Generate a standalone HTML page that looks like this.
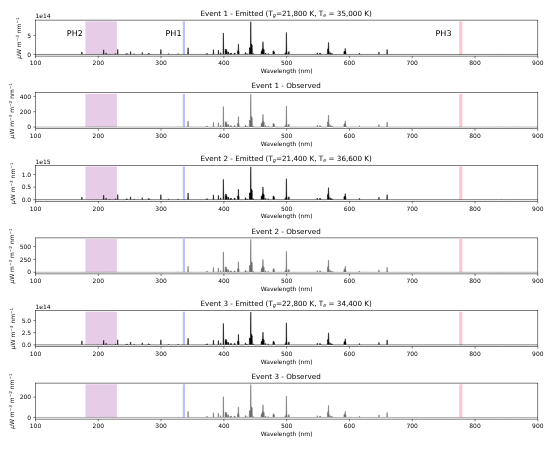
<!DOCTYPE html>
<html><head><meta charset="utf-8"><title>Spectra</title>
<style>html,body{margin:0;padding:0;background:#fff}svg{display:block}text{font-family:"DejaVu Sans","Liberation Sans",sans-serif;fill:#000}</style></head>
<body>
<svg width="550" height="449" viewBox="0 0 550 449">
<rect width="550" height="449" fill="#fff"/>
<g>
<rect x="85.42" y="21.26" width="31.46" height="33.20" fill="#800080" fill-opacity="0.2"/>
<rect x="182.77" y="21.26" width="2.2" height="33.2" fill="#0000ff" fill-opacity="0.26"/>
<rect x="459.26" y="21.26" width="3.0" height="33.2" fill="#ff0000" fill-opacity="0.22"/>
<path d="M35.50,54.46 L35.50,54.46 L81.46,54.46 L81.59,54.22 L81.71,52.61 L81.84,51.96 L81.96,51.96 L82.09,52.61 L82.21,54.22 L82.34,54.46 L103.18,54.46 L103.31,54.42 L103.44,52.69 L103.56,50.11 L103.69,49.84 L103.81,50.11 L103.94,52.69 L104.06,54.42 L104.19,54.46 L105.70,54.45 L105.82,53.84 L105.95,52.95 L106.07,52.85 L106.20,52.95 L106.32,53.84 L106.45,54.45 L109.21,54.46 L109.34,54.27 L109.46,53.99 L109.59,53.96 L109.71,53.99 L109.84,54.27 L109.97,54.46 L114.86,54.45 L114.99,54.11 L115.11,53.61 L115.24,53.56 L115.37,53.61 L115.49,54.11 L115.62,54.45 L117.25,54.46 L117.37,54.42 L117.50,52.50 L117.63,49.64 L117.75,49.34 L117.88,49.64 L118.00,52.50 L118.13,54.42 L118.25,54.46 L125.79,54.46 L125.91,54.37 L126.04,53.79 L126.17,53.56 L126.29,53.56 L126.42,53.79 L126.54,54.37 L126.67,54.46 L126.79,54.45 L126.92,54.15 L127.04,53.70 L127.17,53.66 L127.30,53.70 L127.42,54.15 L127.55,54.45 L130.06,54.46 L130.18,54.44 L130.31,53.34 L130.43,51.72 L130.56,51.55 L130.69,51.72 L130.81,53.34 L130.94,54.44 L131.06,54.46 L133.70,54.45 L133.83,54.15 L133.95,53.70 L134.08,53.66 L134.20,53.70 L134.33,54.15 L134.45,54.45 L141.86,54.44 L141.99,53.69 L142.11,52.57 L142.24,52.45 L142.36,52.57 L142.49,53.69 L142.62,54.44 L148.14,54.45 L148.27,54.00 L148.39,53.33 L148.52,53.26 L148.64,53.33 L148.77,54.00 L148.89,54.45 L149.02,54.46 L149.15,54.38 L149.27,53.87 L149.40,53.66 L149.52,53.66 L149.65,53.87 L149.77,54.38 L149.90,54.46 L160.45,54.46 L160.57,53.98 L160.70,50.75 L160.82,49.46 L160.95,49.46 L161.08,50.75 L161.20,53.98 L161.33,54.46 L168.23,54.45 L168.36,54.15 L168.48,53.70 L168.61,53.66 L168.74,53.70 L168.86,54.15 L168.99,54.45 L177.65,54.45 L177.78,54.15 L177.90,53.70 L178.03,53.66 L178.15,53.70 L178.28,54.15 L178.40,54.45 L187.57,54.46 L187.70,54.41 L187.82,51.88 L187.95,48.13 L188.07,47.73 L188.20,48.13 L188.32,51.88 L188.45,54.41 L188.58,54.46 L205.78,54.45 L205.91,54.15 L206.03,53.70 L206.16,53.66 L206.28,53.70 L206.41,54.15 L206.53,54.45 L206.78,54.46 L206.91,54.36 L207.04,53.72 L207.16,53.46 L207.29,53.46 L207.41,53.72 L207.54,54.36 L207.66,54.46 L212.94,54.46 L213.06,54.42 L213.19,52.61 L213.31,49.92 L213.44,49.64 L213.57,49.92 L213.69,52.61 L213.82,54.42 L213.94,54.46 L217.96,54.46 L218.09,54.04 L218.21,51.27 L218.34,50.16 L218.46,50.16 L218.59,51.27 L218.71,54.04 L218.84,54.46 L220.35,54.45 L220.47,53.77 L220.60,52.76 L220.72,52.65 L220.85,52.76 L220.97,53.77 L221.10,54.45 L222.86,54.46 L222.98,54.29 L223.11,46.22 L223.23,34.23 L223.36,32.98 L223.49,34.23 L223.61,46.22 L223.74,54.29 L223.86,54.46 L224.99,54.46 L225.12,53.93 L225.24,50.38 L225.37,48.96 L225.49,48.96 L225.62,50.38 L225.75,51.87 L225.87,50.96 L226.00,50.96 L226.12,51.87 L226.25,52.42 L226.37,49.45 L226.50,49.14 L226.63,49.45 L226.75,52.24 L226.88,51.46 L227.00,51.46 L227.13,52.24 L227.25,54.17 L227.38,54.46 L227.63,54.46 L227.76,54.44 L227.88,53.42 L228.01,51.91 L228.13,51.75 L228.26,51.91 L228.38,52.98 L228.51,52.46 L228.63,52.46 L228.76,52.98 L228.89,54.27 L229.01,54.46 L230.02,54.46 L230.14,54.33 L230.27,53.50 L230.39,53.16 L230.52,53.16 L230.64,53.50 L230.77,54.33 L230.89,53.88 L231.02,53.04 L231.15,52.95 L231.27,53.04 L231.40,53.88 L231.52,54.45 L233.91,54.45 L234.03,53.96 L234.16,53.23 L234.29,53.16 L234.41,53.23 L234.54,53.96 L234.66,53.88 L234.79,53.04 L234.91,52.95 L235.04,53.04 L235.16,53.88 L235.29,54.45 L237.30,54.46 L237.42,54.43 L237.55,53.00 L237.68,50.87 L237.80,50.65 L237.93,50.87 L238.05,53.00 L238.18,50.42 L238.30,44.53 L238.43,43.92 L238.55,44.53 L238.68,50.42 L238.81,50.96 L238.93,50.96 L239.06,51.87 L239.18,54.12 L239.31,54.46 L244.96,54.46 L245.08,54.27 L245.21,52.98 L245.34,52.46 L245.46,52.46 L245.59,52.98 L245.71,53.33 L245.84,53.26 L245.96,53.33 L246.09,54.00 L246.21,54.45 L246.72,54.45 L246.84,54.15 L246.97,53.70 L247.09,53.66 L247.22,53.70 L247.35,54.15 L247.47,54.45 L249.10,54.46 L249.23,54.41 L249.35,51.84 L249.48,48.03 L249.61,47.63 L249.73,48.03 L249.86,49.42 L249.98,47.66 L250.11,47.66 L250.23,48.90 L250.36,46.96 L250.48,46.96 L250.61,30.22 L250.74,21.76 L250.86,21.76 L250.99,30.22 L251.11,44.53 L251.24,43.92 L251.36,44.53 L251.49,46.68 L251.61,43.96 L251.74,43.96 L251.87,46.68 L251.99,45.46 L252.12,45.46 L252.24,47.79 L252.37,53.59 L252.49,54.46 L253.00,54.45 L253.12,54.07 L253.25,53.51 L253.37,53.46 L253.50,53.51 L253.62,54.07 L253.75,54.45 L260.91,54.46 L261.03,54.43 L261.16,53.07 L261.28,51.06 L261.41,50.85 L261.54,51.06 L261.66,53.00 L261.79,50.87 L261.91,50.65 L262.04,50.87 L262.16,52.15 L262.29,48.79 L262.41,48.44 L262.54,48.79 L262.67,52.15 L262.79,45.05 L262.92,41.76 L263.04,41.76 L263.17,45.05 L263.29,50.38 L263.42,48.96 L263.54,48.96 L263.67,50.38 L263.80,50.75 L263.92,49.46 L264.05,49.46 L264.17,50.75 L264.30,53.98 L264.42,54.46 L265.18,54.46 L265.30,54.31 L265.43,53.35 L265.55,52.96 L265.68,52.96 L265.80,53.35 L265.93,54.31 L266.06,54.46 L267.69,54.46 L267.81,54.36 L267.94,53.72 L268.06,53.46 L268.19,53.46 L268.32,53.72 L268.44,54.36 L268.57,54.46 L272.71,54.46 L272.84,54.43 L272.96,53.15 L273.09,51.25 L273.21,51.05 L273.34,51.25 L273.46,53.00 L273.59,50.87 L273.72,50.65 L273.84,50.87 L273.97,53.00 L274.09,52.10 L274.22,51.95 L274.34,52.10 L274.47,53.50 L274.59,54.44 L284.64,54.46 L284.77,54.34 L284.89,53.57 L285.02,53.26 L285.14,53.26 L285.27,53.57 L285.39,54.34 L285.52,54.46 L285.65,54.19 L285.77,52.38 L285.90,51.66 L286.02,51.66 L286.15,45.99 L286.27,33.66 L286.40,32.38 L286.52,33.66 L286.65,45.99 L286.78,51.66 L286.90,51.66 L287.03,52.38 L287.15,54.19 L287.28,54.46 L288.16,54.44 L288.28,53.61 L288.41,52.38 L288.53,52.25 L288.66,52.38 L288.78,52.24 L288.91,51.46 L289.04,51.46 L289.16,52.24 L289.29,54.17 L289.41,54.46 L316.79,54.46 L316.91,54.30 L317.04,53.20 L317.16,52.76 L317.29,52.76 L317.42,53.20 L317.54,54.30 L317.67,54.46 L319.55,54.45 L319.68,53.88 L319.80,53.04 L319.93,52.95 L320.05,53.04 L320.18,53.88 L320.30,54.07 L320.43,53.51 L320.56,53.46 L320.68,53.51 L320.81,54.07 L320.93,54.45 L327.21,54.46 L327.34,53.98 L327.46,50.75 L327.59,49.46 L327.71,49.46 L327.84,50.75 L327.96,48.79 L328.09,48.44 L328.22,48.79 L328.34,45.56 L328.47,42.46 L328.59,42.46 L328.72,45.56 L328.84,52.24 L328.97,51.46 L329.09,51.46 L329.22,52.24 L329.35,54.17 L329.47,54.46 L329.85,54.46 L329.97,54.29 L330.10,53.13 L330.22,52.66 L330.35,52.66 L330.48,53.13 L330.60,54.29 L330.73,54.46 L330.85,54.45 L330.98,54.00 L331.10,53.33 L331.23,53.26 L331.35,53.33 L331.48,54.00 L331.61,54.45 L332.11,54.45 L332.23,54.15 L332.36,53.70 L332.48,53.66 L332.61,53.70 L332.74,54.15 L332.86,54.45 L343.66,54.46 L343.79,54.44 L343.91,53.30 L344.04,51.62 L344.16,51.45 L344.29,51.62 L344.41,53.11 L344.54,51.15 L344.67,50.95 L344.79,51.15 L344.92,53.11 L345.04,50.01 L345.17,48.46 L345.29,48.46 L345.42,50.01 L345.54,52.61 L345.67,51.96 L345.80,51.96 L345.92,52.61 L346.05,54.22 L346.17,54.46 L359.11,54.45 L359.23,53.96 L359.36,53.23 L359.48,53.16 L359.61,53.23 L359.73,53.96 L359.86,54.45 L378.57,54.44 L378.70,53.50 L378.82,52.10 L378.95,51.95 L379.07,52.10 L379.20,53.50 L379.32,54.44 L386.61,54.46 L386.73,54.42 L386.86,52.53 L386.98,49.73 L387.11,49.44 L387.24,49.73 L387.36,52.53 L387.49,54.42 L387.61,54.46 L501.26,54.46 L501.38,54.43 L501.51,54.24 L501.63,54.16 L501.76,54.16 L501.89,54.24 L502.01,54.43 L502.14,54.46 L516.70,54.46 L516.83,54.34 L516.95,54.18 L517.08,54.16 L517.21,54.18 L517.33,54.34 L517.46,54.46 L537.80,54.46 L537.80,54.46" fill="#000" stroke="#000" stroke-width="0.5" stroke-linejoin="round"/>
<rect x="35.50" y="20.10" width="502.30" height="36.00" fill="none" stroke="#000" stroke-width="0.5"/>
<line x1="35.50" y1="56.10" x2="35.50" y2="58.20" stroke="#000" stroke-width="0.5"/>
<text x="35.50" y="65.40" font-size="6.0" text-anchor="middle">100</text>
<line x1="98.29" y1="56.10" x2="98.29" y2="58.20" stroke="#000" stroke-width="0.5"/>
<text x="98.29" y="65.40" font-size="6.0" text-anchor="middle">200</text>
<line x1="161.07" y1="56.10" x2="161.07" y2="58.20" stroke="#000" stroke-width="0.5"/>
<text x="161.07" y="65.40" font-size="6.0" text-anchor="middle">300</text>
<line x1="223.86" y1="56.10" x2="223.86" y2="58.20" stroke="#000" stroke-width="0.5"/>
<text x="223.86" y="65.40" font-size="6.0" text-anchor="middle">400</text>
<line x1="286.65" y1="56.10" x2="286.65" y2="58.20" stroke="#000" stroke-width="0.5"/>
<text x="286.65" y="65.40" font-size="6.0" text-anchor="middle">500</text>
<line x1="349.44" y1="56.10" x2="349.44" y2="58.20" stroke="#000" stroke-width="0.5"/>
<text x="349.44" y="65.40" font-size="6.0" text-anchor="middle">600</text>
<line x1="412.22" y1="56.10" x2="412.22" y2="58.20" stroke="#000" stroke-width="0.5"/>
<text x="412.22" y="65.40" font-size="6.0" text-anchor="middle">700</text>
<line x1="475.01" y1="56.10" x2="475.01" y2="58.20" stroke="#000" stroke-width="0.5"/>
<text x="475.01" y="65.40" font-size="6.0" text-anchor="middle">800</text>
<line x1="537.80" y1="56.10" x2="537.80" y2="58.20" stroke="#000" stroke-width="0.5"/>
<text x="537.80" y="65.40" font-size="6.0" text-anchor="middle">900</text>
<line x1="33.40" y1="54.46" x2="35.50" y2="54.46" stroke="#000" stroke-width="0.5"/>
<text x="31.20" y="56.66" font-size="6.0" text-anchor="end">0</text>
<line x1="33.40" y1="35.56" x2="35.50" y2="35.56" stroke="#000" stroke-width="0.5"/>
<text x="31.20" y="37.76" font-size="6.0" text-anchor="end">5</text>
<text x="35.50" y="18.40" font-size="6.0">1e14</text>
<text x="286.65" y="73.10" font-size="6.0" text-anchor="middle">Wavelength (nm)</text>
<text transform="translate(20.80,38.10) rotate(-90)" font-size="6.0" text-anchor="middle"><tspan font-style="italic">μ</tspan>W m<tspan font-size="4.20" dy="-2.2">−3</tspan><tspan dy="2.2"> nm</tspan><tspan font-size="4.20" dy="-2.2">−1</tspan></text>
<text x="286.15" y="15.70" font-size="7.2" text-anchor="middle">Event 1 - Emitted (T<tspan font-size="5.04" font-style="italic" dy="1.1">g</tspan><tspan dy="-1.1">=21,800 K, T</tspan><tspan font-size="5.04" font-style="italic" dy="1.1">e</tspan><tspan dy="-1.1"> = 35,000 K)</tspan></text>
<text transform="translate(74.90,35.9) scale(1,0.96)" font-size="8.1" text-anchor="middle">PH2</text>
<text transform="translate(173.50,35.9) scale(1,0.96)" font-size="8.1" text-anchor="middle">PH1</text>
<text transform="translate(443.50,35.9) scale(1,0.96)" font-size="8.1" text-anchor="middle">PH3</text>
</g>
<g>
<rect x="85.42" y="93.86" width="31.46" height="33.20" fill="#800080" fill-opacity="0.2"/>
<rect x="182.77" y="93.86" width="2.2" height="33.2" fill="#0000ff" fill-opacity="0.26"/>
<rect x="459.26" y="93.86" width="3.0" height="33.2" fill="#ff0000" fill-opacity="0.22"/>
<path d="M35.50,127.06 L35.50,127.06 L160.57,127.04 L160.70,126.91 L160.82,126.86 L160.95,126.85 L161.08,126.90 L161.20,127.04 L161.33,127.06 L168.23,127.06 L168.36,127.01 L168.48,126.94 L168.61,126.93 L168.74,126.93 L168.86,127.01 L168.99,127.06 L177.65,127.06 L177.78,126.89 L177.90,126.64 L178.03,126.61 L178.15,126.63 L178.28,126.88 L178.40,127.06 L187.57,127.06 L187.70,127.01 L187.82,124.74 L187.95,121.34 L188.07,120.98 L188.20,121.32 L188.32,124.71 L188.45,127.01 L188.58,127.06 L205.78,127.05 L205.91,126.75 L206.03,126.31 L206.16,126.26 L206.28,126.31 L206.41,126.75 L206.53,127.05 L206.78,127.06 L206.91,126.96 L207.04,126.32 L207.16,126.06 L207.29,126.06 L207.41,126.32 L207.54,126.96 L207.66,127.06 L212.94,127.06 L213.06,127.02 L213.19,125.21 L213.31,122.53 L213.44,122.25 L213.57,122.52 L213.69,125.21 L213.82,127.02 L213.94,127.06 L217.96,127.06 L218.09,126.64 L218.21,123.87 L218.34,122.76 L218.46,122.76 L218.59,123.87 L218.71,126.64 L218.84,127.06 L220.35,127.05 L220.47,126.37 L220.60,125.36 L220.72,125.25 L220.85,125.36 L220.97,126.37 L221.10,127.05 L222.86,127.06 L222.98,126.90 L223.11,119.15 L223.23,107.64 L223.36,106.44 L223.49,107.64 L223.61,119.15 L223.74,126.90 L223.86,127.06 L224.99,127.06 L225.12,126.53 L225.24,122.98 L225.37,121.56 L225.49,121.56 L225.62,122.98 L225.75,124.47 L225.87,123.56 L226.00,123.56 L226.12,124.47 L226.25,125.02 L226.37,122.05 L226.50,121.74 L226.63,122.05 L226.75,124.84 L226.88,124.06 L227.00,124.06 L227.13,124.84 L227.25,126.77 L227.38,127.06 L227.63,127.06 L227.76,127.04 L227.88,126.02 L228.01,124.51 L228.13,124.35 L228.26,124.51 L228.38,125.58 L228.51,125.06 L228.63,125.06 L228.76,125.58 L228.89,126.87 L229.01,127.06 L230.02,127.06 L230.14,126.93 L230.27,126.10 L230.39,125.76 L230.52,125.76 L230.64,126.10 L230.77,126.93 L230.89,126.48 L231.02,125.64 L231.15,125.55 L231.27,125.64 L231.40,126.48 L231.52,127.05 L233.91,127.05 L234.03,126.56 L234.16,125.83 L234.29,125.76 L234.41,125.83 L234.54,126.56 L234.66,126.48 L234.79,125.64 L234.91,125.55 L235.04,125.64 L235.16,126.48 L235.29,127.05 L237.30,127.06 L237.42,127.03 L237.55,125.60 L237.68,123.47 L237.80,123.25 L237.93,123.47 L238.05,125.60 L238.18,123.02 L238.30,117.13 L238.43,116.52 L238.55,117.13 L238.68,123.02 L238.81,123.56 L238.93,123.56 L239.06,124.47 L239.18,126.72 L239.31,127.06 L244.96,127.06 L245.08,126.87 L245.21,125.58 L245.34,125.06 L245.46,125.06 L245.59,125.58 L245.71,125.93 L245.84,125.86 L245.96,125.93 L246.09,126.60 L246.21,127.05 L246.72,127.05 L246.84,126.75 L246.97,126.30 L247.09,126.26 L247.22,126.30 L247.35,126.75 L247.47,127.05 L249.10,127.06 L249.23,127.01 L249.35,124.44 L249.48,120.63 L249.61,120.23 L249.73,120.63 L249.86,122.02 L249.98,120.26 L250.11,120.26 L250.23,121.50 L250.36,119.56 L250.48,119.56 L250.61,102.82 L250.74,94.36 L250.86,94.36 L250.99,102.82 L251.11,117.13 L251.24,116.52 L251.36,117.13 L251.49,119.28 L251.61,116.56 L251.74,116.56 L251.87,119.28 L251.99,118.06 L252.12,118.06 L252.24,120.39 L252.37,126.19 L252.49,127.06 L253.00,127.05 L253.12,126.67 L253.25,126.11 L253.37,126.06 L253.50,126.11 L253.62,126.67 L253.75,127.05 L260.91,127.06 L261.03,127.03 L261.16,125.67 L261.28,123.66 L261.41,123.45 L261.54,123.66 L261.66,125.60 L261.79,123.47 L261.91,123.25 L262.04,123.47 L262.16,124.75 L262.29,121.39 L262.41,121.04 L262.54,121.39 L262.67,124.75 L262.79,117.65 L262.92,114.36 L263.04,114.36 L263.17,117.65 L263.29,122.98 L263.42,121.56 L263.54,121.56 L263.67,122.98 L263.80,123.35 L263.92,122.06 L264.05,122.06 L264.17,123.35 L264.30,126.58 L264.42,127.06 L265.18,127.06 L265.30,126.91 L265.43,125.95 L265.55,125.56 L265.68,125.56 L265.80,125.95 L265.93,126.91 L266.06,127.06 L267.69,127.06 L267.81,126.96 L267.94,126.32 L268.06,126.06 L268.19,126.06 L268.32,126.32 L268.44,126.96 L268.57,127.06 L272.71,127.06 L272.84,127.03 L272.96,125.75 L273.09,123.85 L273.21,123.65 L273.34,123.85 L273.46,125.60 L273.59,123.47 L273.72,123.25 L273.84,123.47 L273.97,125.60 L274.09,124.70 L274.22,124.55 L274.34,124.70 L274.47,126.10 L274.59,127.04 L284.64,127.06 L284.77,126.94 L284.89,126.17 L285.02,125.86 L285.14,125.86 L285.27,126.17 L285.39,126.94 L285.52,127.06 L285.65,126.79 L285.77,124.98 L285.90,124.26 L286.02,124.26 L286.15,118.93 L286.27,107.09 L286.40,105.86 L286.52,107.09 L286.65,118.93 L286.78,124.26 L286.90,124.26 L287.03,124.98 L287.15,126.79 L287.28,127.06 L288.16,127.04 L288.28,126.21 L288.41,124.98 L288.53,124.85 L288.66,124.98 L288.78,124.84 L288.91,124.06 L289.04,124.06 L289.16,124.84 L289.29,126.77 L289.41,127.06 L316.79,127.06 L316.91,126.90 L317.04,125.80 L317.16,125.36 L317.29,125.36 L317.42,125.80 L317.54,126.90 L317.67,127.06 L319.55,127.05 L319.68,126.48 L319.80,125.64 L319.93,125.55 L320.05,125.64 L320.18,126.48 L320.30,126.67 L320.43,126.11 L320.56,126.06 L320.68,126.11 L320.81,126.67 L320.93,127.05 L327.21,127.06 L327.34,126.58 L327.46,123.35 L327.59,122.06 L327.71,122.06 L327.84,123.35 L327.96,121.39 L328.09,121.04 L328.22,121.39 L328.34,118.16 L328.47,115.06 L328.59,115.06 L328.72,118.16 L328.84,124.84 L328.97,124.06 L329.09,124.06 L329.22,124.84 L329.35,126.77 L329.47,127.06 L329.85,127.06 L329.97,126.89 L330.10,125.73 L330.22,125.26 L330.35,125.26 L330.48,125.73 L330.60,126.89 L330.73,127.06 L330.85,127.05 L330.98,126.60 L331.10,125.93 L331.23,125.86 L331.35,125.93 L331.48,126.60 L331.61,127.05 L332.11,127.05 L332.23,126.75 L332.36,126.30 L332.48,126.26 L332.61,126.30 L332.74,126.75 L332.86,127.05 L343.66,127.06 L343.79,127.04 L343.91,125.90 L344.04,124.22 L344.16,124.05 L344.29,124.22 L344.41,125.71 L344.54,123.75 L344.67,123.55 L344.79,123.75 L344.92,125.71 L345.04,122.61 L345.17,121.06 L345.29,121.06 L345.42,122.61 L345.54,125.21 L345.67,124.56 L345.80,124.56 L345.92,125.21 L346.05,126.82 L346.17,127.06 L359.11,127.05 L359.23,126.56 L359.36,125.83 L359.48,125.76 L359.61,125.83 L359.73,126.56 L359.86,127.05 L378.57,127.04 L378.70,126.10 L378.82,124.70 L378.95,124.55 L379.07,124.70 L379.20,126.10 L379.32,127.04 L386.61,127.06 L386.73,127.02 L386.86,125.13 L386.98,122.33 L387.11,122.04 L387.24,122.33 L387.36,125.13 L387.49,127.02 L387.61,127.06 L501.26,127.06 L501.38,127.03 L501.51,126.84 L501.63,126.76 L501.76,126.76 L501.89,126.84 L502.01,127.03 L502.14,127.06 L516.70,127.06 L516.83,126.94 L516.95,126.78 L517.08,126.76 L517.21,126.78 L517.33,126.94 L517.46,127.06 L537.80,127.06 L537.80,127.06" fill="#6b6b6b" stroke="#6b6b6b" stroke-width="0.5" stroke-linejoin="round"/>
<rect x="35.50" y="92.70" width="502.30" height="36.00" fill="none" stroke="#000" stroke-width="0.5"/>
<line x1="35.50" y1="128.70" x2="35.50" y2="130.80" stroke="#000" stroke-width="0.5"/>
<text x="35.50" y="138.00" font-size="6.0" text-anchor="middle">100</text>
<line x1="98.29" y1="128.70" x2="98.29" y2="130.80" stroke="#000" stroke-width="0.5"/>
<text x="98.29" y="138.00" font-size="6.0" text-anchor="middle">200</text>
<line x1="161.07" y1="128.70" x2="161.07" y2="130.80" stroke="#000" stroke-width="0.5"/>
<text x="161.07" y="138.00" font-size="6.0" text-anchor="middle">300</text>
<line x1="223.86" y1="128.70" x2="223.86" y2="130.80" stroke="#000" stroke-width="0.5"/>
<text x="223.86" y="138.00" font-size="6.0" text-anchor="middle">400</text>
<line x1="286.65" y1="128.70" x2="286.65" y2="130.80" stroke="#000" stroke-width="0.5"/>
<text x="286.65" y="138.00" font-size="6.0" text-anchor="middle">500</text>
<line x1="349.44" y1="128.70" x2="349.44" y2="130.80" stroke="#000" stroke-width="0.5"/>
<text x="349.44" y="138.00" font-size="6.0" text-anchor="middle">600</text>
<line x1="412.22" y1="128.70" x2="412.22" y2="130.80" stroke="#000" stroke-width="0.5"/>
<text x="412.22" y="138.00" font-size="6.0" text-anchor="middle">700</text>
<line x1="475.01" y1="128.70" x2="475.01" y2="130.80" stroke="#000" stroke-width="0.5"/>
<text x="475.01" y="138.00" font-size="6.0" text-anchor="middle">800</text>
<line x1="537.80" y1="128.70" x2="537.80" y2="130.80" stroke="#000" stroke-width="0.5"/>
<text x="537.80" y="138.00" font-size="6.0" text-anchor="middle">900</text>
<line x1="33.40" y1="127.06" x2="35.50" y2="127.06" stroke="#000" stroke-width="0.5"/>
<text x="31.20" y="129.26" font-size="6.0" text-anchor="end">0</text>
<line x1="33.40" y1="111.71" x2="35.50" y2="111.71" stroke="#000" stroke-width="0.5"/>
<text x="31.20" y="113.91" font-size="6.0" text-anchor="end">200</text>
<line x1="33.40" y1="96.36" x2="35.50" y2="96.36" stroke="#000" stroke-width="0.5"/>
<text x="31.20" y="98.56" font-size="6.0" text-anchor="end">400</text>
<text x="286.65" y="145.70" font-size="6.0" text-anchor="middle">Wavelength (nm)</text>
<text transform="translate(14.00,110.70) rotate(-90)" font-size="6.0" text-anchor="middle"><tspan font-style="italic">μ</tspan>W m<tspan font-size="4.20" dy="-2.2">−3</tspan><tspan dy="2.2"> m</tspan><tspan font-size="4.20" dy="-2.2">−2</tspan><tspan dy="2.2"> nm</tspan><tspan font-size="4.20" dy="-2.2">−1</tspan></text>
<text x="286.15" y="88.30" font-size="7.2" text-anchor="middle">Event 1 - Observed</text>
</g>
<g>
<rect x="85.42" y="166.46" width="31.46" height="33.20" fill="#800080" fill-opacity="0.2"/>
<rect x="182.77" y="166.46" width="2.2" height="33.2" fill="#0000ff" fill-opacity="0.26"/>
<rect x="459.26" y="166.46" width="3.0" height="33.2" fill="#ff0000" fill-opacity="0.22"/>
<path d="M35.50,199.66 L35.50,199.66 L81.46,199.66 L81.59,199.42 L81.71,197.81 L81.84,197.16 L81.96,197.16 L82.09,197.81 L82.21,199.42 L82.34,199.66 L103.18,199.66 L103.31,199.62 L103.44,197.89 L103.56,195.31 L103.69,195.04 L103.81,195.31 L103.94,197.89 L104.06,199.62 L104.19,199.66 L105.70,199.65 L105.82,199.04 L105.95,198.15 L106.07,198.05 L106.20,198.15 L106.32,199.04 L106.45,199.65 L109.21,199.66 L109.34,199.47 L109.46,199.19 L109.59,199.16 L109.71,199.19 L109.84,199.47 L109.97,199.66 L114.86,199.65 L114.99,199.31 L115.11,198.81 L115.24,198.76 L115.37,198.81 L115.49,199.31 L115.62,199.65 L117.25,199.66 L117.37,199.62 L117.50,197.70 L117.63,194.84 L117.75,194.54 L117.88,194.84 L118.00,197.70 L118.13,199.62 L118.25,199.66 L125.79,199.66 L125.91,199.57 L126.04,198.99 L126.17,198.76 L126.29,198.76 L126.42,198.99 L126.54,199.57 L126.67,199.66 L126.79,199.65 L126.92,199.35 L127.04,198.90 L127.17,198.86 L127.30,198.90 L127.42,199.35 L127.55,199.65 L130.06,199.66 L130.18,199.64 L130.31,198.54 L130.43,196.92 L130.56,196.75 L130.69,196.92 L130.81,198.54 L130.94,199.64 L131.06,199.66 L133.70,199.65 L133.83,199.35 L133.95,198.90 L134.08,198.86 L134.20,198.90 L134.33,199.35 L134.45,199.65 L141.86,199.64 L141.99,198.89 L142.11,197.77 L142.24,197.65 L142.36,197.77 L142.49,198.89 L142.62,199.64 L148.14,199.65 L148.27,199.20 L148.39,198.53 L148.52,198.46 L148.64,198.53 L148.77,199.20 L148.89,199.65 L149.02,199.66 L149.15,199.58 L149.27,199.07 L149.40,198.86 L149.52,198.86 L149.65,199.07 L149.77,199.58 L149.90,199.66 L160.45,199.66 L160.57,199.18 L160.70,195.95 L160.82,194.66 L160.95,194.66 L161.08,195.95 L161.20,199.18 L161.33,199.66 L168.23,199.65 L168.36,199.35 L168.48,198.90 L168.61,198.86 L168.74,198.90 L168.86,199.35 L168.99,199.65 L177.65,199.65 L177.78,199.35 L177.90,198.90 L178.03,198.86 L178.15,198.90 L178.28,199.35 L178.40,199.65 L187.57,199.66 L187.70,199.61 L187.82,197.08 L187.95,193.33 L188.07,192.93 L188.20,193.33 L188.32,197.08 L188.45,199.61 L188.58,199.66 L205.78,199.65 L205.91,199.35 L206.03,198.90 L206.16,198.86 L206.28,198.90 L206.41,199.35 L206.53,199.65 L206.78,199.66 L206.91,199.56 L207.04,198.92 L207.16,198.66 L207.29,198.66 L207.41,198.92 L207.54,199.56 L207.66,199.66 L212.94,199.66 L213.06,199.62 L213.19,197.81 L213.31,195.12 L213.44,194.84 L213.57,195.12 L213.69,197.81 L213.82,199.62 L213.94,199.66 L217.96,199.66 L218.09,199.24 L218.21,196.47 L218.34,195.36 L218.46,195.36 L218.59,196.47 L218.71,199.24 L218.84,199.66 L220.35,199.65 L220.47,198.97 L220.60,197.96 L220.72,197.85 L220.85,197.96 L220.97,198.97 L221.10,199.65 L222.86,199.66 L222.98,199.50 L223.11,191.83 L223.23,180.44 L223.36,179.25 L223.49,180.44 L223.61,191.83 L223.74,199.50 L223.86,199.66 L224.99,199.66 L225.12,199.13 L225.24,195.58 L225.37,194.16 L225.49,194.16 L225.62,195.58 L225.75,197.07 L225.87,196.16 L226.00,196.16 L226.12,197.07 L226.25,197.62 L226.37,194.65 L226.50,194.34 L226.63,194.65 L226.75,197.44 L226.88,196.66 L227.00,196.66 L227.13,197.44 L227.25,199.37 L227.38,199.66 L227.63,199.66 L227.76,199.64 L227.88,198.62 L228.01,197.11 L228.13,196.95 L228.26,197.11 L228.38,198.18 L228.51,197.66 L228.63,197.66 L228.76,198.18 L228.89,199.47 L229.01,199.66 L230.02,199.66 L230.14,199.53 L230.27,198.70 L230.39,198.36 L230.52,198.36 L230.64,198.70 L230.77,199.53 L230.89,199.08 L231.02,198.24 L231.15,198.15 L231.27,198.24 L231.40,199.08 L231.52,199.65 L233.91,199.65 L234.03,199.16 L234.16,198.43 L234.29,198.36 L234.41,198.43 L234.54,199.16 L234.66,199.08 L234.79,198.24 L234.91,198.15 L235.04,198.24 L235.16,199.08 L235.29,199.65 L237.30,199.66 L237.42,199.63 L237.55,198.20 L237.68,196.07 L237.80,195.85 L237.93,196.07 L238.05,198.20 L238.18,195.62 L238.30,189.73 L238.43,189.12 L238.55,189.73 L238.68,195.62 L238.81,196.16 L238.93,196.16 L239.06,197.07 L239.18,199.32 L239.31,199.66 L244.96,199.66 L245.08,199.47 L245.21,198.18 L245.34,197.66 L245.46,197.66 L245.59,198.18 L245.71,198.53 L245.84,198.46 L245.96,198.53 L246.09,199.20 L246.21,199.65 L246.72,199.65 L246.84,199.35 L246.97,198.90 L247.09,198.86 L247.22,198.90 L247.35,199.35 L247.47,199.65 L249.10,199.66 L249.23,199.61 L249.35,197.04 L249.48,193.23 L249.61,192.83 L249.73,193.23 L249.86,194.62 L249.98,192.86 L250.11,192.86 L250.23,194.10 L250.36,192.16 L250.48,192.16 L250.61,175.42 L250.74,166.96 L250.86,166.96 L250.99,175.42 L251.11,189.73 L251.24,189.12 L251.36,189.73 L251.49,191.88 L251.61,189.16 L251.74,189.16 L251.87,191.88 L251.99,190.66 L252.12,190.66 L252.24,192.99 L252.37,198.79 L252.49,199.66 L253.00,199.65 L253.12,199.27 L253.25,198.71 L253.37,198.66 L253.50,198.71 L253.62,199.27 L253.75,199.65 L260.91,199.66 L261.03,199.63 L261.16,198.27 L261.28,196.26 L261.41,196.05 L261.54,196.26 L261.66,198.20 L261.79,196.07 L261.91,195.85 L262.04,196.07 L262.16,197.35 L262.29,193.99 L262.41,193.64 L262.54,193.99 L262.67,197.35 L262.79,190.25 L262.92,186.96 L263.04,186.96 L263.17,190.25 L263.29,195.58 L263.42,194.16 L263.54,194.16 L263.67,195.58 L263.80,195.95 L263.92,194.66 L264.05,194.66 L264.17,195.95 L264.30,199.18 L264.42,199.66 L265.18,199.66 L265.30,199.51 L265.43,198.55 L265.55,198.16 L265.68,198.16 L265.80,198.55 L265.93,199.51 L266.06,199.66 L267.69,199.66 L267.81,199.56 L267.94,198.92 L268.06,198.66 L268.19,198.66 L268.32,198.92 L268.44,199.56 L268.57,199.66 L272.71,199.66 L272.84,199.63 L272.96,198.35 L273.09,196.45 L273.21,196.25 L273.34,196.45 L273.46,198.20 L273.59,196.07 L273.72,195.85 L273.84,196.07 L273.97,198.20 L274.09,197.30 L274.22,197.15 L274.34,197.30 L274.47,198.70 L274.59,199.64 L284.64,199.66 L284.77,199.54 L284.89,198.77 L285.02,198.46 L285.14,198.46 L285.27,198.77 L285.39,199.54 L285.52,199.66 L285.65,199.39 L285.77,197.58 L285.90,196.86 L286.02,196.86 L286.15,191.61 L286.27,179.90 L286.40,178.68 L286.52,179.90 L286.65,191.61 L286.78,196.86 L286.90,196.86 L287.03,197.58 L287.15,199.39 L287.28,199.66 L288.16,199.64 L288.28,198.81 L288.41,197.58 L288.53,197.45 L288.66,197.58 L288.78,197.44 L288.91,196.66 L289.04,196.66 L289.16,197.44 L289.29,199.37 L289.41,199.66 L316.79,199.66 L316.91,199.50 L317.04,198.40 L317.16,197.96 L317.29,197.96 L317.42,198.40 L317.54,199.50 L317.67,199.66 L319.55,199.65 L319.68,199.08 L319.80,198.24 L319.93,198.15 L320.05,198.24 L320.18,199.08 L320.30,199.27 L320.43,198.71 L320.56,198.66 L320.68,198.71 L320.81,199.27 L320.93,199.65 L327.21,199.66 L327.34,199.18 L327.46,195.95 L327.59,194.66 L327.71,194.66 L327.84,195.95 L327.96,193.99 L328.09,193.64 L328.22,193.99 L328.34,190.76 L328.47,187.66 L328.59,187.66 L328.72,190.76 L328.84,197.44 L328.97,196.66 L329.09,196.66 L329.22,197.44 L329.35,199.37 L329.47,199.66 L329.85,199.66 L329.97,199.49 L330.10,198.33 L330.22,197.86 L330.35,197.86 L330.48,198.33 L330.60,199.49 L330.73,199.66 L330.85,199.65 L330.98,199.20 L331.10,198.53 L331.23,198.46 L331.35,198.53 L331.48,199.20 L331.61,199.65 L332.11,199.65 L332.23,199.35 L332.36,198.90 L332.48,198.86 L332.61,198.90 L332.74,199.35 L332.86,199.65 L343.66,199.66 L343.79,199.64 L343.91,198.50 L344.04,196.82 L344.16,196.65 L344.29,196.82 L344.41,198.31 L344.54,196.35 L344.67,196.15 L344.79,196.35 L344.92,198.31 L345.04,195.21 L345.17,193.66 L345.29,193.66 L345.42,195.21 L345.54,197.81 L345.67,197.16 L345.80,197.16 L345.92,197.81 L346.05,199.42 L346.17,199.66 L359.11,199.65 L359.23,199.16 L359.36,198.43 L359.48,198.36 L359.61,198.43 L359.73,199.16 L359.86,199.65 L378.57,199.64 L378.70,198.70 L378.82,197.30 L378.95,197.15 L379.07,197.30 L379.20,198.70 L379.32,199.64 L386.61,199.66 L386.73,199.62 L386.86,197.73 L386.98,194.93 L387.11,194.64 L387.24,194.93 L387.36,197.73 L387.49,199.62 L387.61,199.66 L501.26,199.66 L501.38,199.63 L501.51,199.44 L501.63,199.36 L501.76,199.36 L501.89,199.44 L502.01,199.63 L502.14,199.66 L516.70,199.66 L516.83,199.54 L516.95,199.38 L517.08,199.36 L517.21,199.38 L517.33,199.54 L517.46,199.66 L537.80,199.66 L537.80,199.66" fill="#000" stroke="#000" stroke-width="0.5" stroke-linejoin="round"/>
<rect x="35.50" y="165.30" width="502.30" height="36.00" fill="none" stroke="#000" stroke-width="0.5"/>
<line x1="35.50" y1="201.30" x2="35.50" y2="203.40" stroke="#000" stroke-width="0.5"/>
<text x="35.50" y="210.60" font-size="6.0" text-anchor="middle">100</text>
<line x1="98.29" y1="201.30" x2="98.29" y2="203.40" stroke="#000" stroke-width="0.5"/>
<text x="98.29" y="210.60" font-size="6.0" text-anchor="middle">200</text>
<line x1="161.07" y1="201.30" x2="161.07" y2="203.40" stroke="#000" stroke-width="0.5"/>
<text x="161.07" y="210.60" font-size="6.0" text-anchor="middle">300</text>
<line x1="223.86" y1="201.30" x2="223.86" y2="203.40" stroke="#000" stroke-width="0.5"/>
<text x="223.86" y="210.60" font-size="6.0" text-anchor="middle">400</text>
<line x1="286.65" y1="201.30" x2="286.65" y2="203.40" stroke="#000" stroke-width="0.5"/>
<text x="286.65" y="210.60" font-size="6.0" text-anchor="middle">500</text>
<line x1="349.44" y1="201.30" x2="349.44" y2="203.40" stroke="#000" stroke-width="0.5"/>
<text x="349.44" y="210.60" font-size="6.0" text-anchor="middle">600</text>
<line x1="412.22" y1="201.30" x2="412.22" y2="203.40" stroke="#000" stroke-width="0.5"/>
<text x="412.22" y="210.60" font-size="6.0" text-anchor="middle">700</text>
<line x1="475.01" y1="201.30" x2="475.01" y2="203.40" stroke="#000" stroke-width="0.5"/>
<text x="475.01" y="210.60" font-size="6.0" text-anchor="middle">800</text>
<line x1="537.80" y1="201.30" x2="537.80" y2="203.40" stroke="#000" stroke-width="0.5"/>
<text x="537.80" y="210.60" font-size="6.0" text-anchor="middle">900</text>
<line x1="33.40" y1="199.66" x2="35.50" y2="199.66" stroke="#000" stroke-width="0.5"/>
<text x="31.20" y="201.86" font-size="6.0" text-anchor="end">0.0</text>
<line x1="33.40" y1="187.11" x2="35.50" y2="187.11" stroke="#000" stroke-width="0.5"/>
<text x="31.20" y="189.31" font-size="6.0" text-anchor="end">0.5</text>
<line x1="33.40" y1="174.56" x2="35.50" y2="174.56" stroke="#000" stroke-width="0.5"/>
<text x="31.20" y="176.76" font-size="6.0" text-anchor="end">1.0</text>
<text x="35.50" y="163.60" font-size="6.0">1e15</text>
<text x="286.65" y="218.30" font-size="6.0" text-anchor="middle">Wavelength (nm)</text>
<text transform="translate(15.10,183.30) rotate(-90)" font-size="6.0" text-anchor="middle"><tspan font-style="italic">μ</tspan>W m<tspan font-size="4.20" dy="-2.2">−3</tspan><tspan dy="2.2"> nm</tspan><tspan font-size="4.20" dy="-2.2">−1</tspan></text>
<text x="286.15" y="160.90" font-size="7.2" text-anchor="middle">Event 2 - Emitted (T<tspan font-size="5.04" font-style="italic" dy="1.1">g</tspan><tspan dy="-1.1">=21,400 K, T</tspan><tspan font-size="5.04" font-style="italic" dy="1.1">e</tspan><tspan dy="-1.1"> = 36,600 K)</tspan></text>
</g>
<g>
<rect x="85.42" y="239.06" width="31.46" height="33.20" fill="#800080" fill-opacity="0.2"/>
<rect x="182.77" y="239.06" width="2.2" height="33.2" fill="#0000ff" fill-opacity="0.26"/>
<rect x="459.26" y="239.06" width="3.0" height="33.2" fill="#ff0000" fill-opacity="0.22"/>
<path d="M35.50,272.26 L35.50,272.26 L160.57,272.24 L160.70,272.11 L160.82,272.06 L160.95,272.05 L161.08,272.10 L161.20,272.24 L161.33,272.26 L168.23,272.26 L168.36,272.21 L168.48,272.14 L168.61,272.13 L168.74,272.13 L168.86,272.21 L168.99,272.26 L177.65,272.26 L177.78,272.09 L177.90,271.84 L178.03,271.81 L178.15,271.83 L178.28,272.08 L178.40,272.26 L187.57,272.26 L187.70,272.21 L187.82,269.94 L187.95,266.54 L188.07,266.18 L188.20,266.52 L188.32,269.91 L188.45,272.21 L188.58,272.26 L205.78,272.25 L205.91,271.95 L206.03,271.51 L206.16,271.46 L206.28,271.51 L206.41,271.95 L206.53,272.25 L206.78,272.26 L206.91,272.16 L207.04,271.52 L207.16,271.26 L207.29,271.26 L207.41,271.52 L207.54,272.16 L207.66,272.26 L212.94,272.26 L213.06,272.22 L213.19,270.41 L213.31,267.73 L213.44,267.45 L213.57,267.72 L213.69,270.41 L213.82,272.22 L213.94,272.26 L217.96,272.26 L218.09,271.84 L218.21,269.07 L218.34,267.96 L218.46,267.96 L218.59,269.07 L218.71,271.84 L218.84,272.26 L220.35,272.25 L220.47,271.57 L220.60,270.56 L220.72,270.45 L220.85,270.56 L220.97,271.57 L221.10,272.25 L222.86,272.26 L222.98,272.10 L223.11,264.43 L223.23,253.04 L223.36,251.86 L223.49,253.04 L223.61,264.43 L223.74,272.10 L223.86,272.26 L224.99,272.26 L225.12,271.73 L225.24,268.18 L225.37,266.76 L225.49,266.76 L225.62,268.18 L225.75,269.67 L225.87,268.76 L226.00,268.76 L226.12,269.67 L226.25,270.22 L226.37,267.25 L226.50,266.94 L226.63,267.25 L226.75,270.04 L226.88,269.26 L227.00,269.26 L227.13,270.04 L227.25,271.97 L227.38,272.26 L227.63,272.26 L227.76,272.24 L227.88,271.22 L228.01,269.71 L228.13,269.55 L228.26,269.71 L228.38,270.78 L228.51,270.26 L228.63,270.26 L228.76,270.78 L228.89,272.07 L229.01,272.26 L230.02,272.26 L230.14,272.13 L230.27,271.30 L230.39,270.96 L230.52,270.96 L230.64,271.30 L230.77,272.13 L230.89,271.68 L231.02,270.84 L231.15,270.75 L231.27,270.84 L231.40,271.68 L231.52,272.25 L233.91,272.25 L234.03,271.76 L234.16,271.03 L234.29,270.96 L234.41,271.03 L234.54,271.76 L234.66,271.68 L234.79,270.84 L234.91,270.75 L235.04,270.84 L235.16,271.68 L235.29,272.25 L237.30,272.26 L237.42,272.23 L237.55,270.80 L237.68,268.67 L237.80,268.45 L237.93,268.67 L238.05,270.80 L238.18,268.22 L238.30,262.33 L238.43,261.72 L238.55,262.33 L238.68,268.22 L238.81,268.76 L238.93,268.76 L239.06,269.67 L239.18,271.92 L239.31,272.26 L244.96,272.26 L245.08,272.07 L245.21,270.78 L245.34,270.26 L245.46,270.26 L245.59,270.78 L245.71,271.13 L245.84,271.06 L245.96,271.13 L246.09,271.80 L246.21,272.25 L246.72,272.25 L246.84,271.95 L246.97,271.50 L247.09,271.46 L247.22,271.50 L247.35,271.95 L247.47,272.25 L249.10,272.26 L249.23,272.21 L249.35,269.64 L249.48,265.83 L249.61,265.43 L249.73,265.83 L249.86,267.22 L249.98,265.46 L250.11,265.46 L250.23,266.70 L250.36,264.76 L250.48,264.76 L250.61,248.02 L250.74,239.56 L250.86,239.56 L250.99,248.02 L251.11,262.33 L251.24,261.72 L251.36,262.33 L251.49,264.48 L251.61,261.76 L251.74,261.76 L251.87,264.48 L251.99,263.26 L252.12,263.26 L252.24,265.59 L252.37,271.39 L252.49,272.26 L253.00,272.25 L253.12,271.87 L253.25,271.31 L253.37,271.26 L253.50,271.31 L253.62,271.87 L253.75,272.25 L260.91,272.26 L261.03,272.23 L261.16,270.87 L261.28,268.86 L261.41,268.65 L261.54,268.86 L261.66,270.80 L261.79,268.67 L261.91,268.45 L262.04,268.67 L262.16,269.95 L262.29,266.59 L262.41,266.24 L262.54,266.59 L262.67,269.95 L262.79,262.85 L262.92,259.56 L263.04,259.56 L263.17,262.85 L263.29,268.18 L263.42,266.76 L263.54,266.76 L263.67,268.18 L263.80,268.55 L263.92,267.26 L264.05,267.26 L264.17,268.55 L264.30,271.78 L264.42,272.26 L265.18,272.26 L265.30,272.11 L265.43,271.15 L265.55,270.76 L265.68,270.76 L265.80,271.15 L265.93,272.11 L266.06,272.26 L267.69,272.26 L267.81,272.16 L267.94,271.52 L268.06,271.26 L268.19,271.26 L268.32,271.52 L268.44,272.16 L268.57,272.26 L272.71,272.26 L272.84,272.23 L272.96,270.95 L273.09,269.05 L273.21,268.85 L273.34,269.05 L273.46,270.80 L273.59,268.67 L273.72,268.45 L273.84,268.67 L273.97,270.80 L274.09,269.90 L274.22,269.75 L274.34,269.90 L274.47,271.30 L274.59,272.24 L284.64,272.26 L284.77,272.14 L284.89,271.37 L285.02,271.06 L285.14,271.06 L285.27,271.37 L285.39,272.14 L285.52,272.26 L285.65,271.99 L285.77,270.18 L285.90,269.46 L286.02,269.46 L286.15,264.21 L286.27,252.50 L286.40,251.28 L286.52,252.50 L286.65,264.21 L286.78,269.46 L286.90,269.46 L287.03,270.18 L287.15,271.99 L287.28,272.26 L288.16,272.24 L288.28,271.41 L288.41,270.18 L288.53,270.05 L288.66,270.18 L288.78,270.04 L288.91,269.26 L289.04,269.26 L289.16,270.04 L289.29,271.97 L289.41,272.26 L316.79,272.26 L316.91,272.10 L317.04,271.00 L317.16,270.56 L317.29,270.56 L317.42,271.00 L317.54,272.10 L317.67,272.26 L319.55,272.25 L319.68,271.68 L319.80,270.84 L319.93,270.75 L320.05,270.84 L320.18,271.68 L320.30,271.87 L320.43,271.31 L320.56,271.26 L320.68,271.31 L320.81,271.87 L320.93,272.25 L327.21,272.26 L327.34,271.78 L327.46,268.55 L327.59,267.26 L327.71,267.26 L327.84,268.55 L327.96,266.59 L328.09,266.24 L328.22,266.59 L328.34,263.36 L328.47,260.26 L328.59,260.26 L328.72,263.36 L328.84,270.04 L328.97,269.26 L329.09,269.26 L329.22,270.04 L329.35,271.97 L329.47,272.26 L329.85,272.26 L329.97,272.09 L330.10,270.93 L330.22,270.46 L330.35,270.46 L330.48,270.93 L330.60,272.09 L330.73,272.26 L330.85,272.25 L330.98,271.80 L331.10,271.13 L331.23,271.06 L331.35,271.13 L331.48,271.80 L331.61,272.25 L332.11,272.25 L332.23,271.95 L332.36,271.50 L332.48,271.46 L332.61,271.50 L332.74,271.95 L332.86,272.25 L343.66,272.26 L343.79,272.24 L343.91,271.10 L344.04,269.42 L344.16,269.25 L344.29,269.42 L344.41,270.91 L344.54,268.95 L344.67,268.75 L344.79,268.95 L344.92,270.91 L345.04,267.81 L345.17,266.26 L345.29,266.26 L345.42,267.81 L345.54,270.41 L345.67,269.76 L345.80,269.76 L345.92,270.41 L346.05,272.02 L346.17,272.26 L359.11,272.25 L359.23,271.76 L359.36,271.03 L359.48,270.96 L359.61,271.03 L359.73,271.76 L359.86,272.25 L378.57,272.24 L378.70,271.30 L378.82,269.90 L378.95,269.75 L379.07,269.90 L379.20,271.30 L379.32,272.24 L386.61,272.26 L386.73,272.22 L386.86,270.33 L386.98,267.53 L387.11,267.24 L387.24,267.53 L387.36,270.33 L387.49,272.22 L387.61,272.26 L501.26,272.26 L501.38,272.23 L501.51,272.04 L501.63,271.96 L501.76,271.96 L501.89,272.04 L502.01,272.23 L502.14,272.26 L516.70,272.26 L516.83,272.14 L516.95,271.98 L517.08,271.96 L517.21,271.98 L517.33,272.14 L517.46,272.26 L537.80,272.26 L537.80,272.26" fill="#6b6b6b" stroke="#6b6b6b" stroke-width="0.5" stroke-linejoin="round"/>
<rect x="35.50" y="237.90" width="502.30" height="36.00" fill="none" stroke="#000" stroke-width="0.5"/>
<line x1="35.50" y1="273.90" x2="35.50" y2="276.00" stroke="#000" stroke-width="0.5"/>
<text x="35.50" y="283.20" font-size="6.0" text-anchor="middle">100</text>
<line x1="98.29" y1="273.90" x2="98.29" y2="276.00" stroke="#000" stroke-width="0.5"/>
<text x="98.29" y="283.20" font-size="6.0" text-anchor="middle">200</text>
<line x1="161.07" y1="273.90" x2="161.07" y2="276.00" stroke="#000" stroke-width="0.5"/>
<text x="161.07" y="283.20" font-size="6.0" text-anchor="middle">300</text>
<line x1="223.86" y1="273.90" x2="223.86" y2="276.00" stroke="#000" stroke-width="0.5"/>
<text x="223.86" y="283.20" font-size="6.0" text-anchor="middle">400</text>
<line x1="286.65" y1="273.90" x2="286.65" y2="276.00" stroke="#000" stroke-width="0.5"/>
<text x="286.65" y="283.20" font-size="6.0" text-anchor="middle">500</text>
<line x1="349.44" y1="273.90" x2="349.44" y2="276.00" stroke="#000" stroke-width="0.5"/>
<text x="349.44" y="283.20" font-size="6.0" text-anchor="middle">600</text>
<line x1="412.22" y1="273.90" x2="412.22" y2="276.00" stroke="#000" stroke-width="0.5"/>
<text x="412.22" y="283.20" font-size="6.0" text-anchor="middle">700</text>
<line x1="475.01" y1="273.90" x2="475.01" y2="276.00" stroke="#000" stroke-width="0.5"/>
<text x="475.01" y="283.20" font-size="6.0" text-anchor="middle">800</text>
<line x1="537.80" y1="273.90" x2="537.80" y2="276.00" stroke="#000" stroke-width="0.5"/>
<text x="537.80" y="283.20" font-size="6.0" text-anchor="middle">900</text>
<line x1="33.40" y1="272.26" x2="35.50" y2="272.26" stroke="#000" stroke-width="0.5"/>
<text x="31.20" y="274.46" font-size="6.0" text-anchor="end">0</text>
<line x1="33.40" y1="259.41" x2="35.50" y2="259.41" stroke="#000" stroke-width="0.5"/>
<text x="31.20" y="261.61" font-size="6.0" text-anchor="end">250</text>
<line x1="33.40" y1="246.56" x2="35.50" y2="246.56" stroke="#000" stroke-width="0.5"/>
<text x="31.20" y="248.76" font-size="6.0" text-anchor="end">500</text>
<text x="286.65" y="290.90" font-size="6.0" text-anchor="middle">Wavelength (nm)</text>
<text transform="translate(14.00,255.90) rotate(-90)" font-size="6.0" text-anchor="middle"><tspan font-style="italic">μ</tspan>W m<tspan font-size="4.20" dy="-2.2">−3</tspan><tspan dy="2.2"> m</tspan><tspan font-size="4.20" dy="-2.2">−2</tspan><tspan dy="2.2"> nm</tspan><tspan font-size="4.20" dy="-2.2">−1</tspan></text>
<text x="286.15" y="233.50" font-size="7.2" text-anchor="middle">Event 2 - Observed</text>
</g>
<g>
<rect x="85.42" y="311.66" width="31.46" height="33.20" fill="#800080" fill-opacity="0.2"/>
<rect x="182.77" y="311.66" width="2.2" height="33.2" fill="#0000ff" fill-opacity="0.26"/>
<rect x="459.26" y="311.66" width="3.0" height="33.2" fill="#ff0000" fill-opacity="0.22"/>
<path d="M35.50,344.86 L35.50,344.86 L81.46,344.86 L81.59,344.47 L81.71,341.89 L81.84,340.86 L81.96,340.86 L82.09,341.89 L82.21,344.47 L82.34,344.86 L103.18,344.86 L103.31,344.82 L103.44,343.09 L103.56,340.51 L103.69,340.24 L103.81,340.51 L103.94,343.09 L104.06,344.82 L104.19,344.86 L105.70,344.85 L105.82,344.24 L105.95,343.35 L106.07,343.25 L106.20,343.35 L106.32,344.24 L106.45,344.85 L109.21,344.86 L109.34,344.67 L109.46,344.39 L109.59,344.36 L109.71,344.39 L109.84,344.67 L109.97,344.86 L114.86,344.85 L114.99,344.51 L115.11,344.01 L115.24,343.96 L115.37,344.01 L115.49,344.51 L115.62,344.85 L117.25,344.86 L117.37,344.82 L117.50,342.90 L117.63,340.04 L117.75,339.74 L117.88,340.04 L118.00,342.90 L118.13,344.82 L118.25,344.86 L125.79,344.86 L125.91,344.77 L126.04,344.19 L126.17,343.96 L126.29,343.96 L126.42,344.19 L126.54,344.77 L126.67,344.86 L126.79,344.85 L126.92,344.55 L127.04,344.10 L127.17,344.06 L127.30,344.10 L127.42,344.55 L127.55,344.85 L130.06,344.86 L130.18,344.84 L130.31,343.74 L130.43,342.12 L130.56,341.95 L130.69,342.12 L130.81,343.74 L130.94,344.84 L131.06,344.86 L133.70,344.85 L133.83,344.55 L133.95,344.10 L134.08,344.06 L134.20,344.10 L134.33,344.55 L134.45,344.85 L141.86,344.84 L141.99,344.09 L142.11,342.97 L142.24,342.85 L142.36,342.97 L142.49,344.09 L142.62,344.84 L148.14,344.85 L148.27,344.40 L148.39,343.73 L148.52,343.66 L148.64,343.73 L148.77,344.40 L148.89,344.85 L149.02,344.86 L149.15,344.78 L149.27,344.27 L149.40,344.06 L149.52,344.06 L149.65,344.27 L149.77,344.78 L149.90,344.86 L160.45,344.86 L160.57,344.38 L160.70,341.15 L160.82,339.86 L160.95,339.86 L161.08,341.15 L161.20,344.38 L161.33,344.86 L168.23,344.85 L168.36,344.55 L168.48,344.10 L168.61,344.06 L168.74,344.10 L168.86,344.55 L168.99,344.85 L177.65,344.85 L177.78,344.55 L177.90,344.10 L178.03,344.06 L178.15,344.10 L178.28,344.55 L178.40,344.85 L187.57,344.86 L187.70,344.81 L187.82,342.28 L187.95,338.53 L188.07,338.13 L188.20,338.53 L188.32,342.28 L188.45,344.81 L188.58,344.86 L205.78,344.85 L205.91,344.55 L206.03,344.10 L206.16,344.06 L206.28,344.10 L206.41,344.55 L206.53,344.85 L206.78,344.86 L206.91,344.76 L207.04,344.12 L207.16,343.86 L207.29,343.86 L207.41,344.12 L207.54,344.76 L207.66,344.86 L212.94,344.86 L213.06,344.82 L213.19,343.01 L213.31,340.32 L213.44,340.04 L213.57,340.32 L213.69,343.01 L213.82,344.82 L213.94,344.86 L217.96,344.86 L218.09,344.44 L218.21,341.67 L218.34,340.56 L218.46,340.56 L218.59,341.67 L218.71,344.44 L218.84,344.86 L220.35,344.85 L220.47,344.17 L220.60,343.16 L220.72,343.05 L220.85,343.16 L220.97,344.17 L221.10,344.85 L222.86,344.86 L222.98,344.69 L223.11,336.62 L223.23,324.63 L223.36,323.38 L223.49,324.63 L223.61,336.62 L223.74,344.69 L223.86,344.86 L224.99,344.86 L225.12,344.33 L225.24,340.78 L225.37,339.36 L225.49,339.36 L225.62,340.78 L225.75,342.27 L225.87,341.36 L226.00,341.36 L226.12,342.27 L226.25,342.82 L226.37,339.85 L226.50,339.54 L226.63,339.85 L226.75,342.64 L226.88,341.86 L227.00,341.86 L227.13,342.64 L227.25,344.57 L227.38,344.86 L227.63,344.86 L227.76,344.84 L227.88,343.82 L228.01,342.31 L228.13,342.15 L228.26,342.31 L228.38,343.38 L228.51,342.86 L228.63,342.86 L228.76,343.38 L228.89,344.67 L229.01,344.86 L230.02,344.86 L230.14,344.73 L230.27,343.90 L230.39,343.56 L230.52,343.56 L230.64,343.90 L230.77,344.73 L230.89,344.28 L231.02,343.44 L231.15,343.35 L231.27,343.44 L231.40,344.28 L231.52,344.85 L233.91,344.85 L234.03,344.36 L234.16,343.63 L234.29,343.56 L234.41,343.63 L234.54,344.36 L234.66,344.28 L234.79,343.44 L234.91,343.35 L235.04,343.44 L235.16,344.28 L235.29,344.85 L237.30,344.86 L237.42,344.83 L237.55,343.40 L237.68,341.27 L237.80,341.05 L237.93,341.27 L238.05,343.40 L238.18,340.82 L238.30,334.93 L238.43,334.32 L238.55,334.93 L238.68,340.82 L238.81,341.36 L238.93,341.36 L239.06,342.27 L239.18,344.52 L239.31,344.86 L244.96,344.86 L245.08,344.67 L245.21,343.38 L245.34,342.86 L245.46,342.86 L245.59,343.38 L245.71,343.73 L245.84,343.66 L245.96,343.73 L246.09,344.40 L246.21,344.85 L246.72,344.85 L246.84,344.55 L246.97,344.10 L247.09,344.06 L247.22,344.10 L247.35,344.55 L247.47,344.85 L249.10,344.86 L249.23,344.81 L249.35,342.24 L249.48,338.43 L249.61,338.03 L249.73,338.43 L249.86,339.82 L249.98,338.06 L250.11,338.06 L250.23,339.30 L250.36,337.36 L250.48,337.36 L250.61,320.62 L250.74,312.16 L250.86,312.16 L250.99,320.62 L251.11,334.93 L251.24,334.32 L251.36,334.93 L251.49,337.08 L251.61,334.36 L251.74,334.36 L251.87,337.08 L251.99,335.86 L252.12,335.86 L252.24,338.19 L252.37,343.99 L252.49,344.86 L253.00,344.85 L253.12,344.47 L253.25,343.91 L253.37,343.86 L253.50,343.91 L253.62,344.47 L253.75,344.85 L260.91,344.86 L261.03,344.83 L261.16,343.47 L261.28,341.46 L261.41,341.25 L261.54,341.46 L261.66,343.40 L261.79,341.27 L261.91,341.05 L262.04,341.27 L262.16,342.55 L262.29,339.19 L262.41,338.84 L262.54,339.19 L262.67,342.55 L262.79,335.45 L262.92,332.16 L263.04,332.16 L263.17,335.45 L263.29,340.78 L263.42,339.36 L263.54,339.36 L263.67,340.78 L263.80,341.15 L263.92,339.86 L264.05,339.86 L264.17,341.15 L264.30,344.38 L264.42,344.86 L265.18,344.86 L265.30,344.71 L265.43,343.75 L265.55,343.36 L265.68,343.36 L265.80,343.75 L265.93,344.71 L266.06,344.86 L267.69,344.86 L267.81,344.76 L267.94,344.12 L268.06,343.86 L268.19,343.86 L268.32,344.12 L268.44,344.76 L268.57,344.86 L272.71,344.86 L272.84,344.83 L272.96,343.55 L273.09,341.65 L273.21,341.45 L273.34,341.65 L273.46,343.40 L273.59,341.27 L273.72,341.05 L273.84,341.27 L273.97,343.40 L274.09,342.50 L274.22,342.35 L274.34,342.50 L274.47,343.90 L274.59,344.84 L284.64,344.86 L284.77,344.74 L284.89,343.97 L285.02,343.66 L285.14,343.66 L285.27,343.97 L285.39,344.74 L285.52,344.86 L285.65,344.59 L285.77,342.78 L285.90,342.06 L286.02,342.06 L286.15,336.39 L286.27,324.06 L286.40,322.78 L286.52,324.06 L286.65,336.39 L286.78,342.06 L286.90,342.06 L287.03,342.78 L287.15,344.59 L287.28,344.86 L288.16,344.84 L288.28,344.01 L288.41,342.78 L288.53,342.65 L288.66,342.78 L288.78,342.64 L288.91,341.86 L289.04,341.86 L289.16,342.64 L289.29,344.57 L289.41,344.86 L316.79,344.86 L316.91,344.70 L317.04,343.60 L317.16,343.16 L317.29,343.16 L317.42,343.60 L317.54,344.70 L317.67,344.86 L319.55,344.85 L319.68,344.28 L319.80,343.44 L319.93,343.35 L320.05,343.44 L320.18,344.28 L320.30,344.47 L320.43,343.91 L320.56,343.86 L320.68,343.91 L320.81,344.47 L320.93,344.85 L327.21,344.86 L327.34,344.38 L327.46,341.15 L327.59,339.86 L327.71,339.86 L327.84,341.15 L327.96,339.19 L328.09,338.84 L328.22,339.19 L328.34,335.96 L328.47,332.86 L328.59,332.86 L328.72,335.96 L328.84,342.64 L328.97,341.86 L329.09,341.86 L329.22,342.64 L329.35,344.57 L329.47,344.86 L329.85,344.86 L329.97,344.69 L330.10,343.53 L330.22,343.06 L330.35,343.06 L330.48,343.53 L330.60,344.69 L330.73,344.86 L330.85,344.85 L330.98,344.40 L331.10,343.73 L331.23,343.66 L331.35,343.73 L331.48,344.40 L331.61,344.85 L332.11,344.85 L332.23,344.55 L332.36,344.10 L332.48,344.06 L332.61,344.10 L332.74,344.55 L332.86,344.85 L343.66,344.86 L343.79,344.84 L343.91,343.70 L344.04,342.02 L344.16,341.85 L344.29,342.02 L344.41,343.51 L344.54,341.55 L344.67,341.35 L344.79,341.55 L344.92,343.51 L345.04,340.41 L345.17,338.86 L345.29,338.86 L345.42,340.41 L345.54,343.01 L345.67,342.36 L345.80,342.36 L345.92,343.01 L346.05,344.62 L346.17,344.86 L359.11,344.85 L359.23,344.36 L359.36,343.63 L359.48,343.56 L359.61,343.63 L359.73,344.36 L359.86,344.85 L378.57,344.84 L378.70,343.90 L378.82,342.50 L378.95,342.35 L379.07,342.50 L379.20,343.90 L379.32,344.84 L386.61,344.86 L386.73,344.82 L386.86,342.93 L386.98,340.13 L387.11,339.84 L387.24,340.13 L387.36,342.93 L387.49,344.82 L387.61,344.86 L501.26,344.86 L501.38,344.83 L501.51,344.64 L501.63,344.56 L501.76,344.56 L501.89,344.64 L502.01,344.83 L502.14,344.86 L516.70,344.86 L516.83,344.74 L516.95,344.58 L517.08,344.56 L517.21,344.58 L517.33,344.74 L517.46,344.86 L537.80,344.86 L537.80,344.86" fill="#000" stroke="#000" stroke-width="0.5" stroke-linejoin="round"/>
<rect x="35.50" y="310.50" width="502.30" height="36.00" fill="none" stroke="#000" stroke-width="0.5"/>
<line x1="35.50" y1="346.50" x2="35.50" y2="348.60" stroke="#000" stroke-width="0.5"/>
<text x="35.50" y="355.80" font-size="6.0" text-anchor="middle">100</text>
<line x1="98.29" y1="346.50" x2="98.29" y2="348.60" stroke="#000" stroke-width="0.5"/>
<text x="98.29" y="355.80" font-size="6.0" text-anchor="middle">200</text>
<line x1="161.07" y1="346.50" x2="161.07" y2="348.60" stroke="#000" stroke-width="0.5"/>
<text x="161.07" y="355.80" font-size="6.0" text-anchor="middle">300</text>
<line x1="223.86" y1="346.50" x2="223.86" y2="348.60" stroke="#000" stroke-width="0.5"/>
<text x="223.86" y="355.80" font-size="6.0" text-anchor="middle">400</text>
<line x1="286.65" y1="346.50" x2="286.65" y2="348.60" stroke="#000" stroke-width="0.5"/>
<text x="286.65" y="355.80" font-size="6.0" text-anchor="middle">500</text>
<line x1="349.44" y1="346.50" x2="349.44" y2="348.60" stroke="#000" stroke-width="0.5"/>
<text x="349.44" y="355.80" font-size="6.0" text-anchor="middle">600</text>
<line x1="412.22" y1="346.50" x2="412.22" y2="348.60" stroke="#000" stroke-width="0.5"/>
<text x="412.22" y="355.80" font-size="6.0" text-anchor="middle">700</text>
<line x1="475.01" y1="346.50" x2="475.01" y2="348.60" stroke="#000" stroke-width="0.5"/>
<text x="475.01" y="355.80" font-size="6.0" text-anchor="middle">800</text>
<line x1="537.80" y1="346.50" x2="537.80" y2="348.60" stroke="#000" stroke-width="0.5"/>
<text x="537.80" y="355.80" font-size="6.0" text-anchor="middle">900</text>
<line x1="33.40" y1="344.86" x2="35.50" y2="344.86" stroke="#000" stroke-width="0.5"/>
<text x="31.20" y="347.06" font-size="6.0" text-anchor="end">0.0</text>
<line x1="33.40" y1="332.66" x2="35.50" y2="332.66" stroke="#000" stroke-width="0.5"/>
<text x="31.20" y="334.86" font-size="6.0" text-anchor="end">2.5</text>
<line x1="33.40" y1="320.46" x2="35.50" y2="320.46" stroke="#000" stroke-width="0.5"/>
<text x="31.20" y="322.66" font-size="6.0" text-anchor="end">5.0</text>
<text x="35.50" y="308.80" font-size="6.0">1e14</text>
<text x="286.65" y="363.50" font-size="6.0" text-anchor="middle">Wavelength (nm)</text>
<text transform="translate(15.10,328.50) rotate(-90)" font-size="6.0" text-anchor="middle"><tspan font-style="italic">μ</tspan>W m<tspan font-size="4.20" dy="-2.2">−3</tspan><tspan dy="2.2"> nm</tspan><tspan font-size="4.20" dy="-2.2">−1</tspan></text>
<text x="286.15" y="306.10" font-size="7.2" text-anchor="middle">Event 3 - Emitted (T<tspan font-size="5.04" font-style="italic" dy="1.1">g</tspan><tspan dy="-1.1">=22,800 K, T</tspan><tspan font-size="5.04" font-style="italic" dy="1.1">e</tspan><tspan dy="-1.1"> = 34,400 K)</tspan></text>
</g>
<g>
<rect x="85.42" y="384.26" width="31.46" height="33.20" fill="#800080" fill-opacity="0.2"/>
<rect x="182.77" y="384.26" width="2.2" height="33.2" fill="#0000ff" fill-opacity="0.26"/>
<rect x="459.26" y="384.26" width="3.0" height="33.2" fill="#ff0000" fill-opacity="0.22"/>
<path d="M35.50,417.46 L35.50,417.46 L160.57,417.44 L160.70,417.31 L160.82,417.26 L160.95,417.25 L161.08,417.30 L161.20,417.44 L161.33,417.46 L168.23,417.46 L168.36,417.41 L168.48,417.34 L168.61,417.33 L168.74,417.33 L168.86,417.41 L168.99,417.46 L177.65,417.46 L177.78,417.29 L177.90,417.04 L178.03,417.01 L178.15,417.03 L178.28,417.28 L178.40,417.46 L187.57,417.46 L187.70,417.41 L187.82,415.14 L187.95,411.74 L188.07,411.38 L188.20,411.72 L188.32,415.11 L188.45,417.41 L188.58,417.46 L205.78,417.45 L205.91,417.15 L206.03,416.71 L206.16,416.66 L206.28,416.71 L206.41,417.15 L206.53,417.45 L206.78,417.46 L206.91,417.36 L207.04,416.72 L207.16,416.46 L207.29,416.46 L207.41,416.72 L207.54,417.36 L207.66,417.46 L212.94,417.46 L213.06,417.42 L213.19,415.61 L213.31,412.93 L213.44,412.65 L213.57,412.92 L213.69,415.61 L213.82,417.42 L213.94,417.46 L217.96,417.46 L218.09,417.04 L218.21,414.27 L218.34,413.16 L218.46,413.16 L218.59,414.27 L218.71,417.04 L218.84,417.46 L220.35,417.45 L220.47,416.77 L220.60,415.76 L220.72,415.65 L220.85,415.76 L220.97,416.77 L221.10,417.45 L222.86,417.46 L222.98,417.30 L223.11,409.47 L223.23,397.84 L223.36,396.63 L223.49,397.84 L223.61,409.47 L223.74,417.30 L223.86,417.46 L224.99,417.46 L225.12,416.93 L225.24,413.38 L225.37,411.96 L225.49,411.96 L225.62,413.38 L225.75,414.87 L225.87,413.96 L226.00,413.96 L226.12,414.87 L226.25,415.42 L226.37,412.45 L226.50,412.14 L226.63,412.45 L226.75,415.24 L226.88,414.46 L227.00,414.46 L227.13,415.24 L227.25,417.17 L227.38,417.46 L227.63,417.46 L227.76,417.44 L227.88,416.42 L228.01,414.91 L228.13,414.75 L228.26,414.91 L228.38,415.98 L228.51,415.46 L228.63,415.46 L228.76,415.98 L228.89,417.27 L229.01,417.46 L230.02,417.46 L230.14,417.33 L230.27,416.50 L230.39,416.16 L230.52,416.16 L230.64,416.50 L230.77,417.33 L230.89,416.88 L231.02,416.04 L231.15,415.95 L231.27,416.04 L231.40,416.88 L231.52,417.45 L233.91,417.45 L234.03,416.96 L234.16,416.23 L234.29,416.16 L234.41,416.23 L234.54,416.96 L234.66,416.88 L234.79,416.04 L234.91,415.95 L235.04,416.04 L235.16,416.88 L235.29,417.45 L237.30,417.46 L237.42,417.43 L237.55,416.00 L237.68,413.87 L237.80,413.65 L237.93,413.87 L238.05,416.00 L238.18,413.42 L238.30,407.53 L238.43,406.92 L238.55,407.53 L238.68,413.42 L238.81,413.96 L238.93,413.96 L239.06,414.87 L239.18,417.12 L239.31,417.46 L244.96,417.46 L245.08,417.27 L245.21,415.98 L245.34,415.46 L245.46,415.46 L245.59,415.98 L245.71,416.33 L245.84,416.26 L245.96,416.33 L246.09,417.00 L246.21,417.45 L246.72,417.45 L246.84,417.15 L246.97,416.70 L247.09,416.66 L247.22,416.70 L247.35,417.15 L247.47,417.45 L249.10,417.46 L249.23,417.41 L249.35,414.84 L249.48,411.03 L249.61,410.63 L249.73,411.03 L249.86,412.42 L249.98,410.66 L250.11,410.66 L250.23,411.90 L250.36,409.96 L250.48,409.96 L250.61,393.22 L250.74,384.76 L250.86,384.76 L250.99,393.22 L251.11,407.53 L251.24,406.92 L251.36,407.53 L251.49,409.68 L251.61,406.96 L251.74,406.96 L251.87,409.68 L251.99,408.46 L252.12,408.46 L252.24,410.79 L252.37,416.59 L252.49,417.46 L253.00,417.45 L253.12,417.07 L253.25,416.51 L253.37,416.46 L253.50,416.51 L253.62,417.07 L253.75,417.45 L260.91,417.46 L261.03,417.43 L261.16,416.07 L261.28,414.06 L261.41,413.85 L261.54,414.06 L261.66,416.00 L261.79,413.87 L261.91,413.65 L262.04,413.87 L262.16,415.15 L262.29,411.79 L262.41,411.44 L262.54,411.79 L262.67,415.15 L262.79,408.05 L262.92,404.76 L263.04,404.76 L263.17,408.05 L263.29,413.38 L263.42,411.96 L263.54,411.96 L263.67,413.38 L263.80,413.75 L263.92,412.46 L264.05,412.46 L264.17,413.75 L264.30,416.98 L264.42,417.46 L265.18,417.46 L265.30,417.31 L265.43,416.35 L265.55,415.96 L265.68,415.96 L265.80,416.35 L265.93,417.31 L266.06,417.46 L267.69,417.46 L267.81,417.36 L267.94,416.72 L268.06,416.46 L268.19,416.46 L268.32,416.72 L268.44,417.36 L268.57,417.46 L272.71,417.46 L272.84,417.43 L272.96,416.15 L273.09,414.25 L273.21,414.05 L273.34,414.25 L273.46,416.00 L273.59,413.87 L273.72,413.65 L273.84,413.87 L273.97,416.00 L274.09,415.10 L274.22,414.95 L274.34,415.10 L274.47,416.50 L274.59,417.44 L284.64,417.46 L284.77,417.34 L284.89,416.57 L285.02,416.26 L285.14,416.26 L285.27,416.57 L285.39,417.34 L285.52,417.46 L285.65,417.19 L285.77,415.38 L285.90,414.66 L286.02,414.66 L286.15,409.24 L286.27,397.28 L286.40,396.04 L286.52,397.28 L286.65,409.24 L286.78,414.66 L286.90,414.66 L287.03,415.38 L287.15,417.19 L287.28,417.46 L288.16,417.44 L288.28,416.61 L288.41,415.38 L288.53,415.25 L288.66,415.38 L288.78,415.24 L288.91,414.46 L289.04,414.46 L289.16,415.24 L289.29,417.17 L289.41,417.46 L316.79,417.46 L316.91,417.30 L317.04,416.20 L317.16,415.76 L317.29,415.76 L317.42,416.20 L317.54,417.30 L317.67,417.46 L319.55,417.45 L319.68,416.88 L319.80,416.04 L319.93,415.95 L320.05,416.04 L320.18,416.88 L320.30,417.07 L320.43,416.51 L320.56,416.46 L320.68,416.51 L320.81,417.07 L320.93,417.45 L327.21,417.46 L327.34,416.98 L327.46,413.75 L327.59,412.46 L327.71,412.46 L327.84,413.75 L327.96,411.79 L328.09,411.44 L328.22,411.79 L328.34,408.56 L328.47,405.46 L328.59,405.46 L328.72,408.56 L328.84,415.24 L328.97,414.46 L329.09,414.46 L329.22,415.24 L329.35,417.17 L329.47,417.46 L329.85,417.46 L329.97,417.29 L330.10,416.13 L330.22,415.66 L330.35,415.66 L330.48,416.13 L330.60,417.29 L330.73,417.46 L330.85,417.45 L330.98,417.00 L331.10,416.33 L331.23,416.26 L331.35,416.33 L331.48,417.00 L331.61,417.45 L332.11,417.45 L332.23,417.15 L332.36,416.70 L332.48,416.66 L332.61,416.70 L332.74,417.15 L332.86,417.45 L343.66,417.46 L343.79,417.44 L343.91,416.30 L344.04,414.62 L344.16,414.45 L344.29,414.62 L344.41,416.11 L344.54,414.15 L344.67,413.95 L344.79,414.15 L344.92,416.11 L345.04,413.01 L345.17,411.46 L345.29,411.46 L345.42,413.01 L345.54,415.61 L345.67,414.96 L345.80,414.96 L345.92,415.61 L346.05,417.22 L346.17,417.46 L359.11,417.45 L359.23,416.96 L359.36,416.23 L359.48,416.16 L359.61,416.23 L359.73,416.96 L359.86,417.45 L378.57,417.44 L378.70,416.50 L378.82,415.10 L378.95,414.95 L379.07,415.10 L379.20,416.50 L379.32,417.44 L386.61,417.46 L386.73,417.42 L386.86,415.53 L386.98,412.73 L387.11,412.44 L387.24,412.73 L387.36,415.53 L387.49,417.42 L387.61,417.46 L501.26,417.46 L501.38,417.43 L501.51,417.24 L501.63,417.16 L501.76,417.16 L501.89,417.24 L502.01,417.43 L502.14,417.46 L516.70,417.46 L516.83,417.34 L516.95,417.18 L517.08,417.16 L517.21,417.18 L517.33,417.34 L517.46,417.46 L537.80,417.46 L537.80,417.46" fill="#6b6b6b" stroke="#6b6b6b" stroke-width="0.5" stroke-linejoin="round"/>
<rect x="35.50" y="383.10" width="502.30" height="36.00" fill="none" stroke="#000" stroke-width="0.5"/>
<line x1="35.50" y1="419.10" x2="35.50" y2="421.20" stroke="#000" stroke-width="0.5"/>
<text x="35.50" y="428.40" font-size="6.0" text-anchor="middle">100</text>
<line x1="98.29" y1="419.10" x2="98.29" y2="421.20" stroke="#000" stroke-width="0.5"/>
<text x="98.29" y="428.40" font-size="6.0" text-anchor="middle">200</text>
<line x1="161.07" y1="419.10" x2="161.07" y2="421.20" stroke="#000" stroke-width="0.5"/>
<text x="161.07" y="428.40" font-size="6.0" text-anchor="middle">300</text>
<line x1="223.86" y1="419.10" x2="223.86" y2="421.20" stroke="#000" stroke-width="0.5"/>
<text x="223.86" y="428.40" font-size="6.0" text-anchor="middle">400</text>
<line x1="286.65" y1="419.10" x2="286.65" y2="421.20" stroke="#000" stroke-width="0.5"/>
<text x="286.65" y="428.40" font-size="6.0" text-anchor="middle">500</text>
<line x1="349.44" y1="419.10" x2="349.44" y2="421.20" stroke="#000" stroke-width="0.5"/>
<text x="349.44" y="428.40" font-size="6.0" text-anchor="middle">600</text>
<line x1="412.22" y1="419.10" x2="412.22" y2="421.20" stroke="#000" stroke-width="0.5"/>
<text x="412.22" y="428.40" font-size="6.0" text-anchor="middle">700</text>
<line x1="475.01" y1="419.10" x2="475.01" y2="421.20" stroke="#000" stroke-width="0.5"/>
<text x="475.01" y="428.40" font-size="6.0" text-anchor="middle">800</text>
<line x1="537.80" y1="419.10" x2="537.80" y2="421.20" stroke="#000" stroke-width="0.5"/>
<text x="537.80" y="428.40" font-size="6.0" text-anchor="middle">900</text>
<line x1="33.40" y1="417.46" x2="35.50" y2="417.46" stroke="#000" stroke-width="0.5"/>
<text x="31.20" y="419.66" font-size="6.0" text-anchor="end">0</text>
<line x1="33.40" y1="397.16" x2="35.50" y2="397.16" stroke="#000" stroke-width="0.5"/>
<text x="31.20" y="399.36" font-size="6.0" text-anchor="end">200</text>
<text x="286.65" y="436.10" font-size="6.0" text-anchor="middle">Wavelength (nm)</text>
<text transform="translate(14.10,401.10) rotate(-90)" font-size="6.0" text-anchor="middle"><tspan font-style="italic">μ</tspan>W m<tspan font-size="4.20" dy="-2.2">−3</tspan><tspan dy="2.2"> m</tspan><tspan font-size="4.20" dy="-2.2">−2</tspan><tspan dy="2.2"> nm</tspan><tspan font-size="4.20" dy="-2.2">−1</tspan></text>
<text x="286.15" y="378.70" font-size="7.2" text-anchor="middle">Event 3 - Observed</text>
</g>
</svg></body></html>
